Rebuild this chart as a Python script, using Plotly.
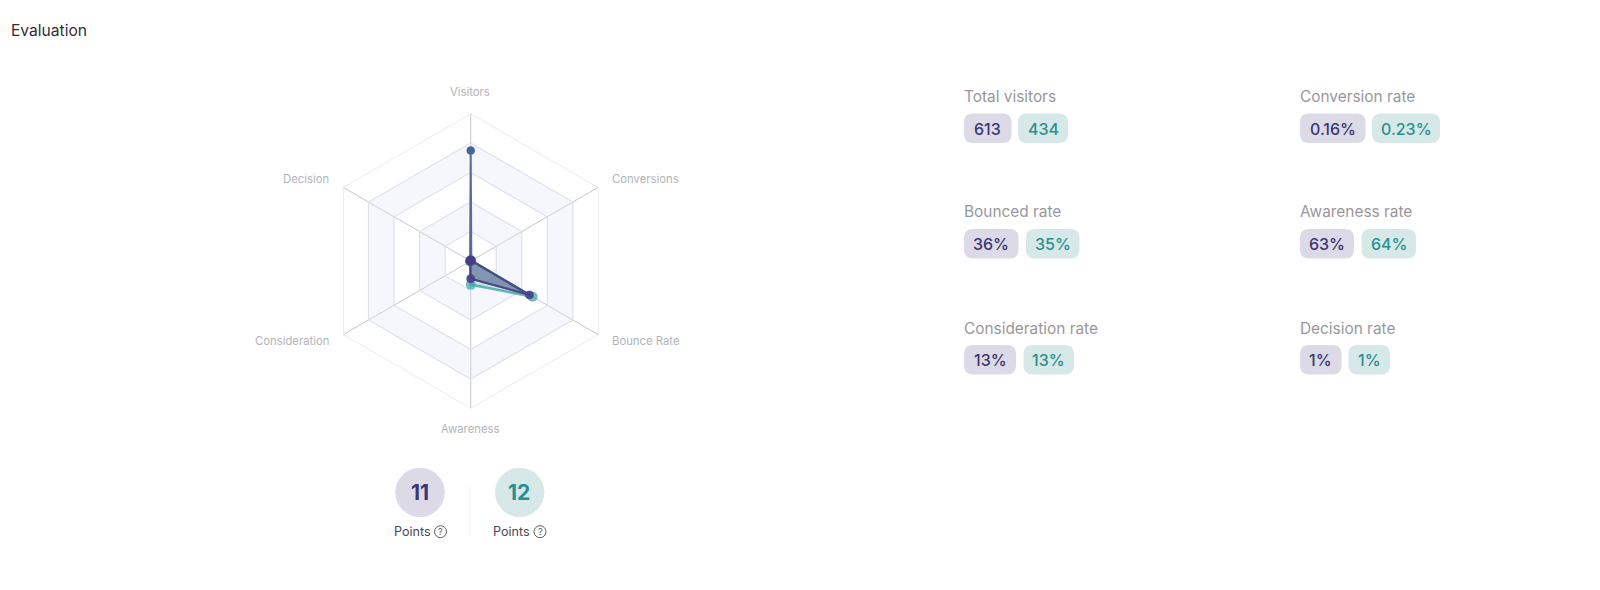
import plotly.graph_objects as go

W, H = 1584, 574   # page adds an 8px body margin around the figure

# ---- data ----
axes_labels = ["Visitors", "Conversions", "Bounce Rate", "Awareness", "Consideration", "Decision"]
series_blue = [75, 0.5, 46, 12, 0.5, 0.5]
series_purple = [0.5, 0.5, 46, 12, 0.5, 0.5]
series_teal = [0.5, 0.5, 48.5, 16, 0.5, 0.5]
grid_levels = [20, 40, 60, 80, 100]
metric_names = ["Total visitors", "Bounced rate", "Consideration rate",
                "Conversion rate", "Awareness rate", "Decision rate"]
metric_a = ["613", "36%", "13%", "0.16%", "63%", "1%"]
metric_b = ["434", "35%", "13%", "0.23%", "64%", "1%"]
points_a = "11"
points_b = "12"
title_text = "Evaluation"

# ---- styles ----
PURPLE, PURPLE_BG = "#3b3675", "#dcdae6"
TEAL, TEAL_BG = "#2b8f91", "#d6e9e8"
BAND = "rgba(226,230,245,0.31)"
GRID = "#dde1f1"
SPOKE = "#c6c6c8"

# pixel layout for the metric pills: (x0, x1, x2, x3, top)
pill_rows = [
    (964, 1011.5, 1018, 1068, 113.5),
    (964, 1018.5, 1026, 1079.5, 229),
    (964, 1016, 1023.5, 1074, 345),
    (1300, 1365.5, 1372, 1440, 113.5),
    (1300, 1354, 1361.5, 1416, 229),
    (1300, 1341.5, 1348.5, 1390, 345),
]
# pixel placement of the radar labels: (x, y, anchor)
label_places = [
    (470.4, 92, "center"),
    (611, 179, "left"),
    (611, 341.5, "left"),
    (470.4, 429, "center"),
    (329.6, 341.5, "right"),
    (329.6, 179, "right"),
]
PILL_H = 29.5
FONT = "Inter, 'Noto Sans', sans-serif"


def px(x):
    return (x - 8) / W


def py(y):
    return 1 - (y - 8) / H


def rounded(x0, x1, y0, y1, r):
    return (f"M{px(x0 + r)},{py(y0)} L{px(x1 - r)},{py(y0)} "
            f"Q{px(x1)},{py(y0)} {px(x1)},{py(y0 + r)} L{px(x1)},{py(y1 - r)} "
            f"Q{px(x1)},{py(y1)} {px(x1 - r)},{py(y1)} L{px(x0 + r)},{py(y1)} "
            f"Q{px(x0)},{py(y1)} {px(x0)},{py(y1 - r)} L{px(x0)},{py(y0 + r)} "
            f"Q{px(x0)},{py(y0)} {px(x0 + r)},{py(y0)} Z")


fig = go.Figure()


def closed(values):
    return values + values[:1]


theta = closed(axes_labels)

# alternating bands
for outer, inner in [(80, 60), (40, 20)]:
    fig.add_trace(go.Scatterpolar(
        r=[outer] * 7 + [inner] * 7,
        theta=theta + theta[::-1],
        mode="lines", fill="toself", fillcolor=BAND,
        line=dict(color="rgba(0,0,0,0)", width=0),
        hoverinfo="skip", showlegend=False))

# hexagonal grid rings
for level in grid_levels:
    fig.add_trace(go.Scatterpolar(
        r=[level] * 7, theta=theta, mode="lines", cliponaxis=False,
        line=dict(color=GRID, width=1.2), hoverinfo="skip", showlegend=False))

# data series
fig.add_trace(go.Scatterpolar(
    r=closed(series_teal), theta=theta, mode="lines+markers", fill="toself",
    fillcolor="rgba(43,143,145,0.2)", line=dict(color="rgba(64,168,168,0.8)", width=2.5),
    marker=dict(color="rgba(64,168,168,0.75)", size=10), showlegend=False))
fig.add_trace(go.Scatterpolar(
    r=closed(series_blue), theta=theta, mode="lines+markers", fill="toself",
    fillcolor="rgba(60,95,135,0.42)", line=dict(color="rgba(70,100,150,0.9)", width=2),
    marker=dict(color="rgba(70,100,150,0.9)", size=8), showlegend=False))
fig.add_trace(go.Scatterpolar(
    r=closed(series_purple), theta=theta, mode="lines+markers", fill="toself",
    fillcolor="rgba(59,54,117,0.2)", line=dict(color="rgba(75,68,135,0.85)", width=2),
    marker=dict(color="rgba(70,60,130,0.65)", size=9), showlegend=False))

cx, cy, R = 470.7, 261, 147.5

shapes, annotations = [], []


def text(x, y, s, size, color, anchor="left", weight=None):
    f = dict(family=FONT, size=size, color=color)
    if weight:
        f["weight"] = weight
    annotations.append(dict(x=px(x), y=py(y), xref="paper", yref="paper", text=s,
                            showarrow=False, xanchor=anchor, yanchor="middle",
                            font=f, borderpad=0))


text(10, 30, title_text, 15.6, "#2f2f33")

for lab, (lx, ly, anc) in zip(axes_labels, label_places):
    text(lx, ly, lab, 11.3, "#b4b4b8", anc)

for name, a, b, (x0, x1, x2, x3, top) in zip(metric_names, metric_a, metric_b, pill_rows):
    text(x0 - 1, top - 17, name, 15.4, "#98989c")
    for l, rt, bg, fg, s in [(x0, x1, PURPLE_BG, PURPLE, a), (x2, x3, TEAL_BG, TEAL, b)]:
        shapes.append(dict(type="path", xref="paper", yref="paper",
                           path=rounded(l, rt, top, top + PILL_H, 9),
                           fillcolor=bg, line=dict(width=0), layer="below"))
        text((l + rt) / 2, top + PILL_H / 2 + 0.5, s, 16, fg, "center", 450)

# point badges
for cxp, bg, fg, s, lx, ix in [(420, PURPLE_BG, PURPLE, points_a, 392.8, 440.5),
                               (519.7, TEAL_BG, TEAL, points_b, 492.2, 540)]:
    shapes.append(dict(type="circle", xref="paper", yref="paper",
                       x0=px(cxp - 24.7), x1=px(cxp + 24.7),
                       y0=py(467.7 + 49.4), y1=py(467.7),
                       fillcolor=bg, line=dict(width=0), layer="below"))
    text(cxp - 0.5, 492.7, s, 21, fg, "center", 700)
    text(lx, 531.7, "Points", 12.6, "#4a4a52")
    shapes.append(dict(type="circle", xref="paper", yref="paper",
                       x0=px(ix - 6), x1=px(ix + 6), y0=py(531.7 + 6), y1=py(531.7 - 6),
                       fillcolor="rgba(0,0,0,0)", line=dict(width=1, color="#5f5f66")))
    text(ix, 531.9, "?", 9, "#5a5a62", "center")

shapes.append(dict(type="line", xref="paper", yref="paper",
                   x0=px(469.3), x1=px(469.3), y0=py(486.5), y1=py(536),
                   line=dict(color="#f1f1f3", width=1)))

fig.update_layout(
    width=W, height=H, margin=dict(l=0, r=0, t=0, b=0), autosize=False,
    paper_bgcolor="white", plot_bgcolor="white", showlegend=False,
    font=dict(family=FONT),
    shapes=shapes, annotations=annotations,
    polar=dict(
        domain=dict(x=[px(cx - R), px(cx + R)], y=[py(cy + R), py(cy - R)]),
        bgcolor="rgba(0,0,0,0)",
        gridshape="linear",
        radialaxis=dict(range=[0, 100], tickvals=grid_levels, showticklabels=False,
                        ticks="", showline=False, showgrid=False, angle=90),
        angularaxis=dict(categoryorder="array", categoryarray=axes_labels, direction="clockwise",
                         rotation=90, gridcolor=SPOKE, gridwidth=1, showline=False,
                         ticks="", showticklabels=False),
    ),
)
fig.write_html("out.html")
